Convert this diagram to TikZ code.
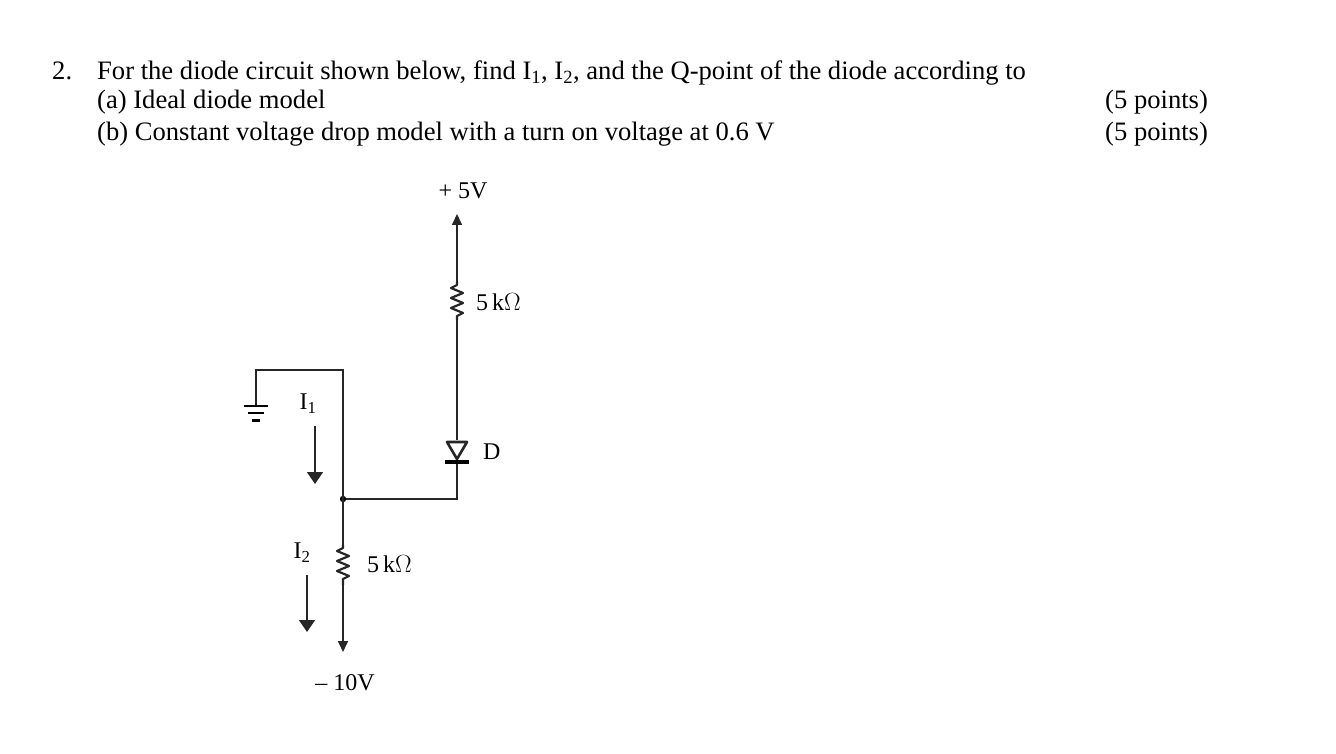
\documentclass[tikz,border=0pt]{standalone}
\usepackage{fontspec}
\setmainfont{Liberation Serif}
\usetikzlibrary{arrows.meta}
\begin{document}
\begin{tikzpicture}[x=1pt,y=-1pt,
  wire/.style={line width=1.6pt,black!85},
  zz/.style={line width=2.2pt,black!85,line join=round},
  txt/.style={anchor=base west,inner sep=0,font=\fontsize{26.6}{28}\selectfont},
  lbl/.style={inner sep=0,font=\fontsize{24}{26}\selectfont},
  tip/.style={-{Triangle[length=11pt,width=10pt]}},
  tipb/.style={-{Triangle[length=12pt,width=16pt]}}]
\useasboundingbox (0,0) rectangle (1336,754);
\node[txt] (num) at (52,80) {2.};
\node[txt] (q) at (97,80) {For the diode circuit shown below, find I\textsubscript{1}, I\textsubscript{2}, and the Q-point of the diode according to};
\node[txt] (qa) at (97,109) {(a) Ideal diode model};
\node[txt] (qb) at (97,141) {(b) Constant voltage drop model with a turn on voltage at 0.6 V};
\node[txt] (pa) at (1105,109) {(5 points)};
\node[txt] (pb) at (1105,141) {(5 points)};
% coordinates
\coordinate (top) at (457,214);
\coordinate (r1t) at (457,282);
\coordinate (r1b) at (457,320);
\coordinate (da) at (457,440);
\coordinate (dk) at (457,464);
\coordinate (dc) at (457,499);
\coordinate (j) at (343,499);
\coordinate (gt) at (343,370);
\coordinate (gl) at (256,370);
\coordinate (g) at (256,405);
\coordinate (r2t) at (343,545);
\coordinate (r2b) at (343,585);
\coordinate (bot) at (343,652);
% top branch
\draw[wire,tip] (r1t) -- (top);
\draw[zz] (r1t) -- ++(0,3) -- ++(-6,3) -- ++(12,5) -- ++(-12,5) -- ++(12,5) -- ++(-12,5) -- ++(12,5) -- ++(-6,3) -- (r1b);
\draw[wire] (r1b) -- (da);
\draw[line width=2.6pt,black!85,fill=white,line join=round] (447,442) -- (467,442) -- (457,459) -- cycle;
\draw[line width=3.5pt] (445,462) -- (469,462);
\draw[wire] (dk) -- (dc) -- (j);
\fill (j) circle (3.2pt);
% ground loop
\draw[wire] (j) -- (gt) -- (gl) -- (g);
\draw[line width=2pt] (244,406) -- (268,406);
\draw[line width=2pt] (248,413) -- (264,413);
\draw[line width=3pt] (252,420) -- (260,420);
% bottom branch
\draw[wire] (j) -- (r2t);
\draw[zz] (r2t) -- ++(0,3) -- ++(-6,3) -- ++(12,5) -- ++(-12,5) -- ++(12,5) -- ++(-12,5) -- ++(12,5) -- ++(-6,3) -- (r2b);
\draw[wire,tip] (r2b) -- (bot);
% current arrows
\coordinate (a1s) at (315,426); \coordinate (a1e) at (315,484);
\coordinate (a2s) at (307,575); \coordinate (a2e) at (307,632);
\draw[wire,tipb] (a1s) -- (a1e);
\draw[wire,tipb] (a2s) -- (a2e);
% labels
\node[lbl] (vp) at (463,191) {+ 5V};
\node[lbl,anchor=west] (r1l) at (476,302) {5\,k$\Omega$};
\node[lbl,anchor=west] (dl) at (483,452) {D};
\node[lbl] (i1) at (308,404) {I\textsubscript{1}};
\node[lbl] (i2) at (302,553) {I\textsubscript{2}};
\node[lbl,anchor=west] (r2l) at (367,564) {5\,k$\Omega$};
\node[lbl] (vm) at (345,683) {-- 10V};
\end{tikzpicture}
\end{document}
